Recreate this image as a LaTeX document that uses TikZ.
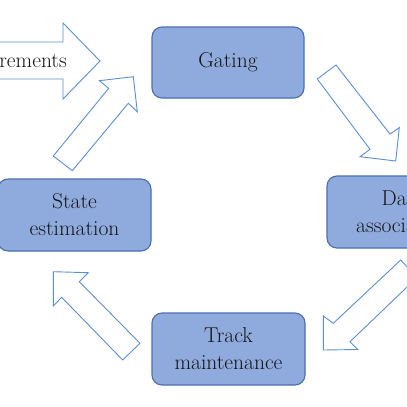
\documentclass[tikz,border=0pt]{standalone}
\usetikzlibrary{positioning}
\definecolor{boxfill}{HTML}{8FAADC}
\definecolor{boxline}{HTML}{4A6FB0}
\definecolor{arrline}{HTML}{5B8FD0}
\definecolor{txt}{HTML}{151515}
\tikzset{
  stagebox/.style={draw=boxline, fill=boxfill, line width=1.1pt, rounded corners=10pt,
    text=txt, align=center, font=\fontsize{21.5}{27}\selectfont, inner sep=0pt},
  blockarrow/.style={draw=arrline, fill=white, line width=0.9pt, line join=miter},
  lbl/.style={text=txt, font=\fontsize{21.5}{27}\selectfont, inner sep=0pt}
}
\begin{document}
\begin{tikzpicture}[x=1pt,y=-1pt]
\useasboundingbox (0,0) rectangle (407,407);
\fill[white] (0,0) rectangle (407,407);
% boxes
\node[stagebox, minimum width=152pt, minimum height=71pt] (gating) at (228,62.5) {Gating};
\node[stagebox, minimum width=153pt, minimum height=72pt] (state) at (74.5,215) {State\\estimation};
\node[stagebox, minimum width=152pt, minimum height=72pt] (data) at (403,212) {Data\\association};
\node[stagebox, minimum width=153pt, minimum height=72pt] (track) at (228.5,349) {Track\\maintenance};
% measurements arrow
\draw[blockarrow] (-80,42) -- (63,42) -- (63,23) -- (100,61) -- (63,99) -- (63,79) -- (-80,79) -- cycle;
\node[lbl, anchor=base east] (meas) at (67,67) {Measurements};
% state -> gating
\draw[blockarrow] (53.3,156) -- (108.7,88.3) -- (99.3,80.7) -- (133.3,76.7) -- (137.3,111.7) -- (128.3,103.3) -- (72.3,170.7) -- cycle;
% gating -> data
\draw[blockarrow] (336,65) -- (390,134) -- (399.3,127.7) -- (395.7,161) -- (360,156.7) -- (370,149.3) -- (317.3,79) -- cycle;
% data -> track
\draw[blockarrow] (400.7,260) -- (333.3,323.3) -- (323.3,316) -- (323.3,350) -- (357.7,349.5) -- (350,341.7) -- (417,277.5) -- cycle;
% track -> state
\draw[blockarrow] (140,343.3) -- (79.3,281.7) -- (88.3,272.7) -- (53.3,271.7) -- (53.3,306) -- (61.7,297.3) -- (122.7,360) -- cycle;
\end{tikzpicture}
\end{document}
